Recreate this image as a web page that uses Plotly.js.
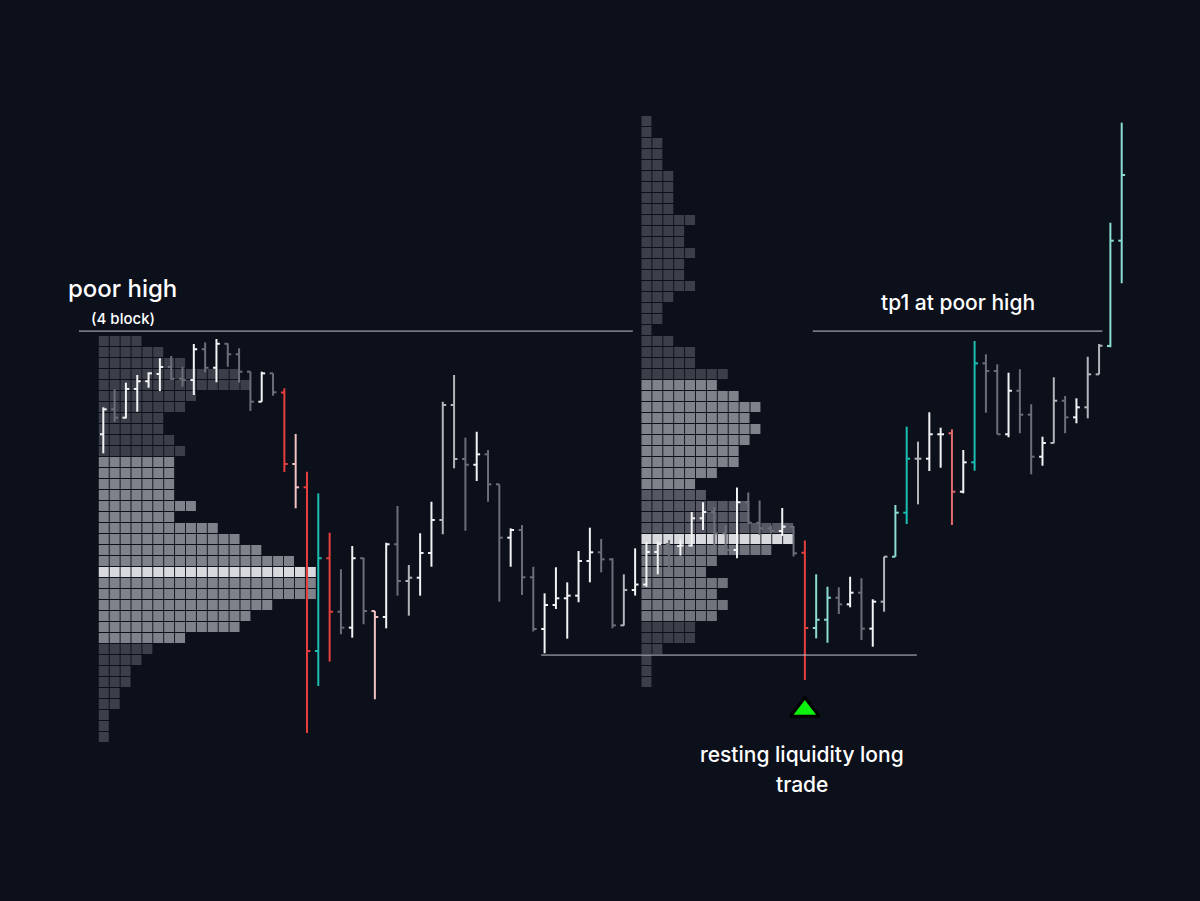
<!DOCTYPE html>
<html>
<head>
<meta charset="utf-8">
<script src="https://cdn.plot.ly/plotly-3.0.1.min.js"></script>
<style>
  html, body { margin: 0; padding: 0; background: #0c101b; }
  #chart { width: 1200px; height: 901px; }
</style>
</head>
<body>
<div id="chart"></div>
<script>
// ---------------- DATA ----------------
// Price bars (price expressed in profile-row units)
const barOpen  = [42.52,44.79,44.03,46.64,47.34,48.00,48.64,47.57,47.45,50.25,48.57,50.75,49.79,48.21,45.48,48.06,46.32,39.82,37.70,22.82,31.25,26.39,24.94,31.25,26.45,25.91,32.52,29.18,29.48,31.73,34.73,45.18,40.27,39.75,40.70,37.97,33.12,33.82,29.52,24.82,27.00,27.61,27.85,31.00,31.79,31.15,25.15,28.36,28.86,31.82,32.55,32.36,32.41,34.88,35.45,33.52,32.00,36.34,34.48,33.97,33.73,34.12,31.75,24.91,25.66,27.66,27.06,28.12,24.85,27.30,31.39,35.39,40.30,40.30,42.52,42.61,37.30,39.97,48.97,48.27,42.52,46.48,44.30,40.48,41.73,45.57,44.06,44.97,47.97,50.55,60.12];
const barHigh  = [44.97,46.61,47.21,47.91,48.15,49.43,49.64,48.66,50.73,50.88,51.18,50.79,50.34,48.21,48.21,48.06,46.70,42.55,39.12,37.15,33.57,30.25,32.36,31.30,26.45,32.66,36.00,30.64,33.52,36.39,45.48,47.91,42.21,42.75,41.09,37.97,33.97,34.27,30.48,28.06,30.43,29.06,31.91,34.03,33.00,31.25,29.79,32.15,32.73,32.77,32.91,32.97,35.45,36.34,35.91,34.27,37.68,37.23,36.50,34.23,35.82,34.18,32.86,29.79,28.66,28.61,29.57,29.43,27.52,31.39,36.09,43.21,41.85,44.52,43.12,42.97,41.09,51.00,49.79,48.88,48.12,48.43,45.25,42.30,47.70,46.00,45.79,49.57,50.73,61.75,70.85];
const barLow   = [40.79,43.66,43.97,44.57,46.75,46.45,47.45,46.85,46.09,48.15,47.25,48.66,47.21,44.64,45.48,46.03,39.09,35.79,15.36,19.64,21.85,24.34,24.03,25.25,18.43,24.88,27.85,26.03,27.85,30.48,33.43,39.43,33.75,38.27,36.39,27.30,30.48,27.91,24.59,22.61,26.64,23.94,27.25,29.06,29.97,24.88,25.12,27.86,28.66,29.79,30.18,31.50,32.30,33.82,32.36,31.85,31.25,34.43,33.36,33.50,33.27,31.41,20.18,23.97,23.57,26.18,26.79,23.82,23.21,26.39,31.39,34.36,36.15,39.18,39.48,34.27,37.15,39.21,44.48,42.52,42.25,42.61,38.88,39.66,41.70,42.61,43.52,43.97,47.97,50.43,56.25];
const barClose = [44.79,44.03,46.64,47.34,48.06,48.64,47.57,47.45,50.25,48.57,50.75,49.79,48.21,45.48,48.06,46.34,39.82,37.70,22.82,31.25,26.39,24.94,31.25,26.45,25.91,32.52,29.18,29.48,31.73,34.73,45.18,40.27,39.75,40.70,37.97,33.12,33.82,29.52,24.82,27.00,27.61,27.85,31.00,31.79,31.15,25.15,28.36,28.86,31.82,32.55,32.36,32.41,34.88,35.45,33.52,32.00,36.34,34.48,33.97,33.73,34.12,31.70,24.91,25.66,27.66,27.06,28.12,24.85,27.30,31.39,35.39,40.30,40.30,42.52,42.52,37.30,39.97,48.97,48.27,42.52,46.48,44.30,40.48,41.73,45.57,44.06,44.97,47.97,50.57,60.12,66.09];
const barTone  = ['w','g','w','w','w','w','g','g','w','g','w','g','g','g','w','g','r','p','r','t','r','g','w','g','p','w','g','l','w','w','l','l','g','w','g','g','w','g','g','w','w','w','w','w','g','g','l','w','w','w','g','w','w','w','g','g','w','g','g','g','w','g','r','q','q','g','w','g','w','l','q','t','l','w','w','s','w','t','g','g','w','g','g','w','l','g','w','l','l','q','q'];

// Volume / TPO profiles: block counts per price row, bottom row first
const leftProfileBottom = 15;
const leftProfileCounts = [1,1,1,2,2,3,3,4,5, 8,13,14,16,20,20,20,18,15,13,11,7,9,7,7,7,7, 8,7,6,6,8,9,14,13,8,6,4];
const leftProfileTones  = ['d','d','d','d','d','d','d','d','d', 'l','l','l','l','l','l','p','l','l','l','l','l','l','l','l','l','l', 'd','d','d','d','d','d','d','d','d','d','d'];
const rightProfileBottom = 20;
const rightProfileCounts = [1,1,1,2,5,5, 7,8,7,8,6,7,12, 14, 14,10,10,6, 5,7,9,9,10,11,10,11,9,7, 8,5,5,3,1,2,2,3,5,4,4,5,4,4,5,3,3,3,3,2,2,2,1,1];
const rightProfileTones  = ['d','d','d','d','d','d', 'n','n','n','n','n','n','n', 'p', 'm','m','m','m', 'l','l','l','l','l','l','l','l','l','l', 'd','d','d','d','d','d','d','d','d','d','d','d','d','d','d','d','d','d','d','d','d','d','d','d'];

// Reference levels
const poorHighLevel = 51.9;
const restingLiquidityLevel = 22.45;
const signalBar = 62;
const signalLevel = 17.45;

// ---------------- STYLE ----------------
const BG = '#0c101b';
const toneColor = { w:'#f2f3f5', g:'#6b6f78', l:'#b3b5bb', r:'#e5403f', p:'#f2c2c2', s:'#e06c6c', t:'#1cbdb2', q:'#8cdcd4' };
const blockColor = { d:'#3c3f49', l:'#7f828a', n:'#71747c', m:'#555862', p:'#d8d9dd' };
const TICK = 0.3;
const leftProfileStart = -0.44, rightProfileStart = 47.52, blockW = 0.963;

// ---------------- BUILD ----------------
const traces = [];

function profileTrace(startX, bottom, counts, tones) {
  const xs = [], ys = [], cs = [];
  counts.forEach((n, r) => {
    for (let k = 0; k < n; k++) {
      xs.push(startX + (k + 0.5) * blockW);
      ys.push(bottom + r);
      cs.push(blockColor[tones[r]]);
    }
  });
  return { type:'scatter', mode:'markers', x:xs, y:ys, hoverinfo:'skip', showlegend:false,
           marker:{ symbol:'square', size:10, color:cs, line:{width:0} } };
}
traces.push(profileTrace(leftProfileStart, leftProfileBottom, leftProfileCounts, leftProfileTones));
traces.push(profileTrace(rightProfileStart, rightProfileBottom, rightProfileCounts, rightProfileTones));

Object.keys(toneColor).forEach(tone => {
  const xs = [], ys = [];
  barTone.forEach((t, i) => {
    if (t !== tone) return;
    xs.push(i, i, null, i - TICK, i, null, i, i + TICK, null);
    ys.push(barLow[i], barHigh[i], null, barOpen[i], barOpen[i], null, barClose[i], barClose[i], null);
  });
  if (xs.length) traces.push({ type:'scatter', mode:'lines', x:xs, y:ys, hoverinfo:'skip', showlegend:false,
    line:{ color:toneColor[tone], width:2 } });
});

traces.push({ type:'scatter', mode:'markers', x:[signalBar], y:[signalLevel], hoverinfo:'skip', showlegend:false,
  marker:{ symbol:'triangle-up', size:25, color:'#0ef00e', line:{ color:'#000000', width:3 } } });

const lineStyle = { color:'#c3c5cb', width:1 };
const shapes = [
  { type:'line', xref:'x', yref:'y', x0:-2.15, x1:46.8, y0:poorHighLevel, y1:poorHighLevel, line:lineStyle },
  { type:'line', xref:'x', yref:'y', x0:62.7, x1:88.3, y0:poorHighLevel, y1:poorHighLevel, line:lineStyle },
  { type:'line', xref:'x', yref:'y', x0:38.7, x1:71.9, y0:restingLiquidityLevel, y1:restingLiquidityLevel, line:lineStyle }
];

const F = 'Inter, "Noto Sans", sans-serif';
function px(x) { return x / 1200; }
function py(y) { return 1 - y / 901; }
const annotations = [
  { text:'poor high', xref:'paper', yref:'paper', x:px(66), y:py(289), xanchor:'left', yanchor:'middle', showarrow:false, font:{ family:F, size:24, weight:500, color:'#ffffff' } },
  { text:'(4 block)', xref:'paper', yref:'paper', x:px(89), y:py(318), xanchor:'left', yanchor:'middle', showarrow:false, font:{ family:F, size:15, weight:500, color:'#ffffff' } },
  { text:'tp1 at poor high', xref:'paper', yref:'paper', x:px(958), y:py(302), xanchor:'center', yanchor:'middle', showarrow:false, font:{ family:F, size:21, weight:500, color:'#ffffff' } },
  { text:'resting liquidity long', xref:'paper', yref:'paper', x:px(802), y:py(754), xanchor:'center', yanchor:'middle', showarrow:false, font:{ family:F, size:21, weight:500, color:'#ffffff' } },
  { text:'trade', xref:'paper', yref:'paper', x:px(802), y:py(784), xanchor:'center', yanchor:'middle', showarrow:false, font:{ family:F, size:21, weight:500, color:'#ffffff' } }
];

const layout = {
  width:1200, height:901,
  margin:{ l:0, r:0, t:0, b:0, pad:0 },
  paper_bgcolor:BG, plot_bgcolor:BG,
  showlegend:false,
  xaxis:{ range:[-9.129, 96.92], visible:false, fixedrange:true },
  yaxis:{ range:[0.0909, 82], visible:false, fixedrange:true },
  shapes, annotations
};

Plotly.newPlot('chart', traces, layout, { staticPlot:true, displayModeBar:false });
</script>
</body>
</html>
